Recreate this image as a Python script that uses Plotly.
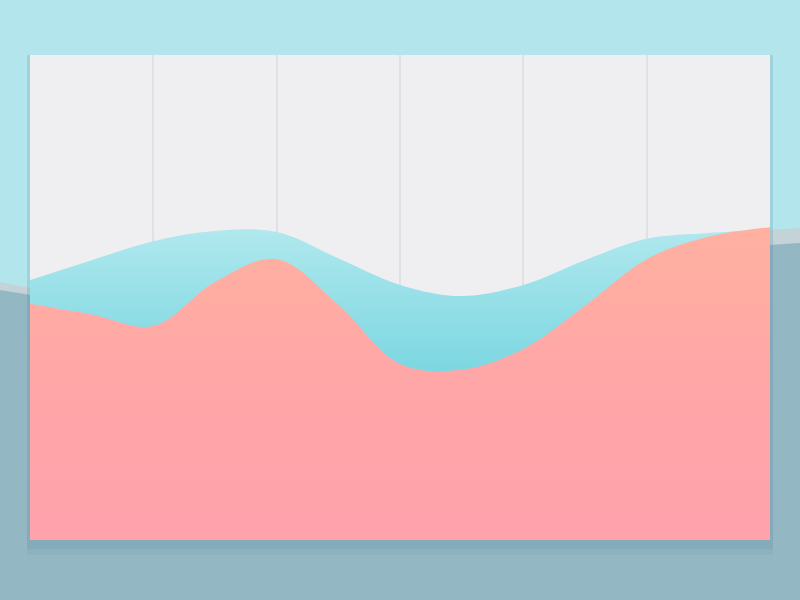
import plotly.graph_objects as go

# chart data: 13 points, half steps over 6 columns
x_vals = [0, 0.5, 1, 1.5, 2, 2.5, 3, 3.5, 4, 4.5, 5, 5.5, 6]
cyan_vals = [53.6, 57.7, 61.6, 63.7, 63.5, 58.1, 52.6, 50.3, 52.6, 57.7, 62.1, 63.3, 63.9]
pink_vals = [48.7, 46.5, 44.1, 53.2, 57.9, 48.5, 36.3, 35.1, 39.4, 48.3, 57.9, 62.5, 64.5]

# decorative background waves (full-page axis, 800 x 600)
bg_x = [0, 100, 200, 300, 400, 500, 600, 700, 800]
bg_light = [318, 300, 290, 295, 310, 330, 350, 364, 372]
bg_dark = [310, 295, 285, 288, 302, 320, 338, 350, 357]

# card and its soft shadow
card_x = [30, 770, 770, 30, 30]
card_y = [60, 60, 545, 545, 60]
shadow_x = [27, 773, 773, 27, 27]
shadow_y = [45, 45, 545, 545, 45]
shadow_y2 = [51, 51, 545, 545, 51]

fig = go.Figure()

fig.add_trace(go.Scatter(x=bg_x, y=bg_light, mode='lines', line=dict(width=0, shape='spline'),
                         fill='tozeroy', fillcolor='#c3d3d7', hoverinfo='skip'))
fig.add_trace(go.Scatter(x=bg_x, y=bg_dark, mode='lines', line=dict(width=0, shape='spline'),
                         fill='tozeroy', fillcolor='#93b8c4', hoverinfo='skip'))
fig.add_trace(go.Scatter(x=shadow_x, y=shadow_y, mode='lines', line=dict(width=0),
                         fill='toself', fillcolor='rgba(70,120,145,0.08)', hoverinfo='skip'))
fig.add_trace(go.Scatter(x=shadow_x, y=shadow_y2, mode='lines', line=dict(width=0),
                         fill='toself', fillcolor='rgba(70,120,145,0.10)', hoverinfo='skip'))
fig.add_trace(go.Scatter(x=card_x, y=card_y, mode='lines', line=dict(width=0),
                         fill='toself', fillcolor='#efeff2', hoverinfo='skip'))

# cyan series
fig.add_trace(go.Scatter(
    x=x_vals, y=cyan_vals, mode='lines', line=dict(width=0, shape='spline', smoothing=1.0),
    fill='tozeroy',
    fillgradient=dict(type='vertical', colorscale=[[0, '#5fcfdc'], [0.55, '#7dd7e1'], [1, '#b0e8ee']]),
    hoverinfo='skip', xaxis='x2', yaxis='y2'))

# pink series
fig.add_trace(go.Scatter(
    x=x_vals, y=pink_vals, mode='lines', line=dict(width=0, shape='spline', smoothing=1.0),
    fill='tozeroy',
    fillgradient=dict(type='vertical', colorscale=[[0, '#ffa2ac'], [0.5, '#ffa6a8'], [1, '#ffb1a0']]),
    hoverinfo='skip', xaxis='x2', yaxis='y2'))

fig.update_layout(
    width=800, height=600,
    margin=dict(l=0, r=0, t=0, b=0),
    paper_bgcolor='#b3e6ec',
    plot_bgcolor='rgba(0,0,0,0)',
    showlegend=False,
    xaxis=dict(domain=[0, 1], range=[0, 800], visible=False, fixedrange=True),
    yaxis=dict(domain=[0, 1], range=[0, 600], visible=False, fixedrange=True),
    xaxis2=dict(domain=[30 / 800, 770 / 800], range=[0, 6], anchor='y2', dtick=1,
                showgrid=True, gridcolor='#e0e0e5', gridwidth=1.5, zeroline=False,
                showticklabels=False, ticks='', showline=False, fixedrange=True),
    yaxis2=dict(domain=[60 / 600, 545 / 600], range=[0, 100], anchor='x2', fixedrange=True,
                showgrid=False, zeroline=False, showticklabels=False, ticks='', showline=False),
)

fig.write_html("out.html", config={'displayModeBar': False},
               post_script="document.body.style.margin='0';")
